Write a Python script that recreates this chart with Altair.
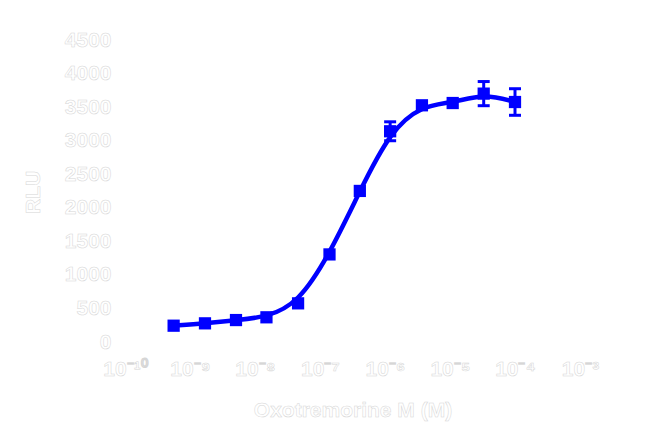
import altair as alt
import pandas as pd

BLUE = "#0000FF"
OUTLINE = "#d6d6d6"

# Oxotremorine M, 3-fold dilutions (M)
conc = [5.6e-10, 1.7e-9, 5.1e-9, 1.5e-8, 4.6e-8, 1.4e-7,
        4.1e-7, 1.2e-6, 3.7e-6, 1.1e-5, 3.3e-5, 1.0e-4]
rlu = [243, 278, 327, 368, 576, 1305, 2251, 3140, 3527, 3561, 3701, 3576]
sem = [0, 0, 0, 0, 0, 0, 0, 141, 0, 0, 180, 198]

x_ticks = [1e-10, 1e-9, 1e-8, 1e-7, 1e-6, 1e-5, 1e-4, 1e-3]
x_tick_labels = ["10⁻¹⁰", "10⁻⁹", "10⁻⁸", "10⁻⁷", "10⁻⁶", "10⁻⁵", "10⁻⁴", "10⁻³"]
y_ticks = [0, 500, 1000, 1500, 2000, 2500, 3000, 3500, 4000, 4500]

df = pd.DataFrame({"conc": conc, "rlu": rlu, "sem": sem})
df["lo"] = df["rlu"] - df["sem"]
df["hi"] = df["rlu"] + df["sem"]

label_expr = "[" + ",".join(f"'{t}'" for t in x_tick_labels) + "][round(log(datum.value)/LN10)+10]"

x_scale = alt.Scale(type="log", domain=[1e-10, 1e-3], nice=False)
y_scale = alt.Scale(domain=[0, 4500], nice=False)

x_axis = alt.Axis(
    values=x_ticks,
    labelExpr=label_expr,
    title="Oxotremorine M (M)",
    ticks=False,
    labelFlush=False,
    labelOverlap=False,
    labelPadding=16,
    titlePadding=20,
    grid=False,
)
y_axis = alt.Axis(
    values=y_ticks,
    format="d",
    title="RLU",
    ticks=False,
    labelFlush=False,
    labelOverlap=False,
    labelPadding=14,
    titleX=-92,
    titleY=152,
    titleAngle=270,
    titleAlign="center",
    titleBaseline="middle",
    grid=False,
)

x = alt.X("conc:Q", scale=x_scale, axis=x_axis)
y = alt.Y("rlu:Q", scale=y_scale, axis=y_axis)

base = alt.Chart(df)

curve = base.mark_line(color=BLUE, strokeWidth=4.5, interpolate="basis").encode(x=x, y=y)
points = base.mark_square(color=BLUE, size=150, opacity=1).encode(x=x, y=y)
errs = (
    base.transform_filter("datum.sem > 0")
    .mark_errorbar(
        color=BLUE,
        thickness=3,
        size=12,
        ticks={"opacity": 1},
        rule={"opacity": 1},
    )
    .encode(x=x, y=alt.Y("lo:Q", scale=y_scale, axis=y_axis), y2="hi:Q")
)

chart = (
    alt.layer(curve, errs, points)
    .properties(
        width=455,
        height=302,
        autosize=alt.AutoSizeParams(type="none"),
        padding={"left": 117, "top": 32, "right": 62, "bottom": 92},
    )
    .configure(
        style={
            "guide-label": {"stroke": OUTLINE, "strokeWidth": 0.5},
            "guide-title": {"stroke": OUTLINE, "strokeWidth": 0.5},
        }
    )
    .configure_view(strokeWidth=0)
    .configure_axis(
        domain=False,
        labelColor="white",
        titleColor="white",
        labelFont="Liberation Sans",
        titleFont="Liberation Sans",
        labelFontSize=21,
        titleFontSize=21,
        labelFontWeight="bold",
        titleFontWeight="bold",
    )
)

chart.save("out.html", embed_options={"renderer": "svg", "actions": False})
